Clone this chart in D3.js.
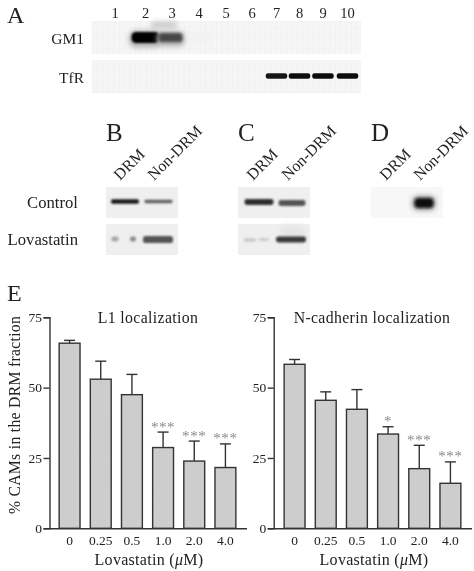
<!DOCTYPE html>
<html>
<head>
<meta charset="utf-8">
<script src="https://cdn.jsdelivr.net/npm/d3@7"></script>
<style>
html,body{margin:0;padding:0;background:#fff}
svg{display:block;filter:blur(0.4px)}
text{font-family:"Liberation Serif","Times New Roman",serif;fill:#222}
</style>
</head>
<body>
<svg id="fig" width="474" height="571" role="img"></svg>
<script>
// ---- Bar chart data (panel E)
const doses = ["0", "0.25", "0.5", "1.0", "2.0", "4.0"];
const yTicks = [0, 25, 50, 75];
const l1Values = [65.8, 53, 47.5, 28.7, 23.9, 21.6];
const l1Upper = [66.8, 59.4, 54.7, 34.2, 31, 30];
const l1Stars = ["", "", "", "***", "***", "***"];
const ncadValues = [58.3, 45.5, 42.3, 33.5, 21.2, 16];
const ncadUpper = [60, 48.5, 49.3, 36.1, 29.5, 23.6];
const ncadStars = ["", "", "", "*", "***", "***"];

// ---- Blot data (band darkness 0-1, by lane)
const lanes = ["1", "2", "3", "4", "5", "6", "7", "8", "9", "10"];
const gm1Bands = [0, 1, 0.72, 0.03, 0, 0, 0, 0, 0, 0];
const tfrBands = [0, 0, 0, 0, 0, 0, 0.9, 0.95, 0.95, 0.95];
const blotColumns = ["DRM", "Non-DRM"];

const svg = d3.select("#fig");
const defs = svg.append("defs");
[[0.7,"b07"],[1.1,"b11"],[1.6,"b16"],[2.6,"b26"],[3.4,"b34"]].forEach(([s,id]) => {
  defs.append("filter").attr("id", id)
    .attr("x","-50%").attr("y","-100%").attr("width","200%").attr("height","300%")
    .append("feGaussianBlur").attr("stdDeviation", s);
});
const panelPattern = defs.append("pattern").attr("id","grid")
  .attr("patternUnits","userSpaceOnUse").attr("width",5.4).attr("height",5.4);
panelPattern.append("rect").attr("width",5.4).attr("height",5.4).attr("fill","#f6f6f6");
panelPattern.append("path").attr("d","M0 0H5.4M0 0V5.4").attr("stroke","#eeeeee").attr("stroke-width",1);

const barPattern = defs.append("pattern").attr("id","barfill")
  .attr("patternUnits","userSpaceOnUse").attr("width",2.6).attr("height",2.6);
barPattern.append("rect").attr("width",2.6).attr("height",2.6).attr("fill","#cfcfcf");
barPattern.append("rect").attr("width",1.3).attr("height",1.3).attr("fill","#c8c8c8");

function label(x, y, txt, size, anchor, rot) {
  const t = svg.append("text").attr("x", x).attr("y", y)
    .attr("font-size", size).attr("text-anchor", anchor || "start").text(txt);
  if (rot) t.attr("transform", `rotate(${rot} ${x} ${y})`);
  return t;
}
function panel(x, y, w, h, fill) {
  svg.append("rect").attr("x", x).attr("y", y).attr("width", w).attr("height", h)
    .attr("fill", fill || "url(#grid)");
}
function band(cx, cy, w, h, dark, f) {
  const v = Math.round(255 * (1 - dark));
  svg.append("rect").attr("x", cx - w / 2).attr("y", cy - h / 2).attr("width", w).attr("height", h)
    .attr("rx", Math.min(w, h) * 0.4)
    .attr("fill", `rgb(${v},${v},${v})`).attr("filter", `url(#${f})`);
}

// ---- Panel A
const laneX = d3.scaleOrdinal(lanes, [115, 145.5, 172, 199, 226, 252, 276.5, 299.5, 323, 347.5]);
label(7, 23, "A", 24);
lanes.forEach(l => label(laneX(l), 18, l, 14.5, "middle"));
label(84, 44, "GM1", 15.5, "end");
label(84, 83, "TfR", 15.5, "end");
panel(92, 21, 269, 33);
panel(92, 60, 269, 33);
// GM1 smear above lanes 2-3
band(164, 25, 26, 7, 0.2, "b26");
gm1Bands.forEach((d, i) => {
  if (!d) return;
  const x = laneX(lanes[i]);
  const isMain = i === 1;
  if (d < 0.1) { band(x, 38, 22, 10, 0.05, "b34"); return; }
  band(x - (isMain ? 0 : 1), 39, isMain ? 33 : 28, isMain ? 17 : 15, 0.3, "b26");
  band(x - (isMain ? 0 : 1.5), 37.5, isMain ? 28 : 24, isMain ? 11 : 9, d, isMain ? "b11" : "b16");
});
tfrBands.forEach((d, i) => {
  if (!d) return;
  band(laneX(lanes[i]), 76, 21.5, 5.5, d, "b07");
});

// ---- Panels B, C, D
[[106, "B", 120, 154], [238, "C", 253, 288], [371, "D", 386, 420]].forEach(([x, name, c0, c1]) => {
  label(x, 141, name, 25);
  blotColumns.forEach((c, i) => label(i ? c1 : c0, 181, c, 16, "start", -45));
});
label(78, 208, "Control", 16.7, "end");
label(78, 245, "Lovastatin", 16.7, "end");
const blotFill = "#efefef";
panel(106, 187, 72, 31, blotFill);
panel(106, 224, 72, 31, blotFill);
panel(238, 187, 72, 31, blotFill);
panel(238, 224, 72, 31, blotFill);
panel(371, 187, 72, 31, "#f7f7f7");

band(125, 201.5, 28, 4.5, 0.9, "b11");
band(158.5, 201.5, 28, 3.5, 0.62, "b11");
band(115, 239, 7, 5, 0.35, "b11");
band(133, 239, 6, 5, 0.45, "b11");
band(158, 239.5, 30, 7, 0.68, "b11");
band(259, 202, 29, 6, 0.82, "b11");
band(292, 203, 27, 6, 0.68, "b11");
band(293, 232, 26, 14, 0.1, "b26");
band(250, 240, 12, 3.5, 0.22, "b11");
band(264, 239.5, 10, 3, 0.2, "b11");
band(291, 239.5, 30, 6, 0.78, "b11");
band(424, 203, 24, 15, 0.35, "b26");
band(424, 203, 19, 10, 0.95, "b16");

// ---- Panel E
label(7, 301, "E", 24);
const y = d3.scaleLinear().domain([0, 75]).range([528.3, 317.3]);

function barChart(opts) {
  const { values, upper, stars, title, titleX, axisX, lo, hi, baseEnd } = opts;
  const x = d3.scaleBand().domain(doses).range([lo, hi]).paddingInner(0.33).paddingOuter(0.165);
  const g = svg.append("g");
  const bw = x.bandwidth();

  g.selectAll("line.err").data(doses).join("line").attr("class", "err")
    .attr("x1", d => x(d) + bw / 2).attr("x2", d => x(d) + bw / 2)
    .attr("y1", (d, i) => y(values[i])).attr("y2", (d, i) => y(upper[i]))
    .attr("stroke", "#333").attr("stroke-width", 1.4);
  g.selectAll("line.cap").data(doses).join("line").attr("class", "cap")
    .attr("x1", d => x(d) + bw / 2 - 5.5).attr("x2", d => x(d) + bw / 2 + 5.5)
    .attr("y1", (d, i) => y(upper[i])).attr("y2", (d, i) => y(upper[i]))
    .attr("stroke", "#333").attr("stroke-width", 1.4);
  g.selectAll("rect.bar").data(doses).join("rect").attr("class", "bar")
    .attr("x", d => x(d)).attr("width", bw)
    .attr("y", (d, i) => y(values[i])).attr("height", (d, i) => y(0) - y(values[i]))
    .attr("fill", "url(#barfill)").attr("stroke", "#333").attr("stroke-width", 1.4);
  g.selectAll("text.star").data(doses).join("text").attr("class", "star")
    .attr("x", d => x(d) + bw / 2).attr("y", (d, i) => y(upper[i]) - 0.5)
    .attr("text-anchor", "middle").attr("font-size", 15).style("fill", "#888")
    .attr("letter-spacing", 0.6)
    .text((d, i) => stars[i]);

  const yAxis = g.append("g").attr("transform", `translate(${axisX},0)`)
    .call(d3.axisLeft(y).tickValues(yTicks).tickSize(6).tickPadding(1.5));
  yAxis.selectAll("text").attr("font-size", 13.5).attr("font-family", '"Liberation Serif",serif').style("fill", "#222");
  const xAxis = g.append("g").attr("transform", `translate(0,${y(0)})`)
    .call(d3.axisBottom(x).tickSize(0).tickPadding(7));
  xAxis.select(".domain").attr("d", `M${axisX},0.5H${baseEnd}`);
  xAxis.selectAll("text").attr("font-size", 13.5).attr("font-family", '"Liberation Serif",serif').style("fill", "#222");
  [yAxis, xAxis].forEach(a => {
    a.selectAll(".domain,line").attr("stroke", "#333").attr("stroke-width", 1.4);
  });
  label(titleX, 323, title, 15.8, "middle").attr("letter-spacing", 0.35);
  svg.append("text").attr("x", (lo + hi) / 2 + 1.5).attr("y", 565)
    .attr("font-size", 16).attr("text-anchor", "middle").attr("letter-spacing", 0.3)
    .html('Lovastatin (<tspan font-style="italic">μ</tspan>M)');
}

barChart({ values: l1Values, upper: l1Upper, stars: l1Stars, title: "L1 localization",
  titleX: 148, axisX: 49.5, lo: 54, hi: 241, baseEnd: 247 });
barChart({ values: ncadValues, upper: ncadUpper, stars: ncadStars, title: "N-cadherin localization",
  titleX: 372, axisX: 273.7, lo: 279, hi: 466, baseEnd: 472 });

label(20, 415, "% CAMs in the DRM fraction", 15.7, "middle", -90).attr("letter-spacing", 0.3);
</script>
</body>
</html>
